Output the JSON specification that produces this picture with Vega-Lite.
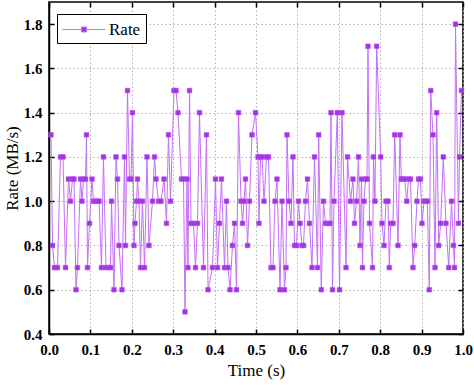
{
  "$schema": "https://vega.github.io/schema/vega-lite/v6.json",
  "width": 414,
  "height": 332,
  "autosize": {"type": "none"},
  "padding": {"left": 49, "top": 2, "right": 11, "bottom": 51},
  "config": {
    "view": {"stroke": "black", "strokeWidth": 1.5},
    "font": "Liberation Serif"
  },
  "data": {"values": [
    {"t":0.0048,"r":1.3},{"t":0.0085,"r":0.8},{"t":0.0133,"r":0.7},{"t":0.0205,"r":0.7},{"t":0.0278,"r":1.2},
    {"t":0.0338,"r":1.2},{"t":0.0399,"r":0.7},{"t":0.0471,"r":1.1},{"t":0.0519,"r":1.0},{"t":0.0568,"r":1.1},
    {"t":0.0604,"r":1.1},{"t":0.0652,"r":0.6},{"t":0.0688,"r":0.7},{"t":0.0761,"r":1.1},{"t":0.0797,"r":1.0},
    {"t":0.0833,"r":1.1},{"t":0.0882,"r":1.1},{"t":0.0906,"r":1.3},{"t":0.0930,"r":0.7},{"t":0.0978,"r":0.9},
    {"t":0.1039,"r":1.1},{"t":0.1075,"r":1.0},{"t":0.1123,"r":1.0},{"t":0.1171,"r":1.0},{"t":0.1208,"r":1.0},
    {"t":0.1268,"r":0.7},{"t":0.1316,"r":1.2},{"t":0.1377,"r":0.7},{"t":0.1437,"r":0.7},{"t":0.1486,"r":0.7},
    {"t":0.1510,"r":1.0},{"t":0.1570,"r":0.6},{"t":0.1618,"r":1.2},{"t":0.1655,"r":1.1},{"t":0.1691,"r":0.8},
    {"t":0.1763,"r":0.6},{"t":0.1824,"r":1.2},{"t":0.1848,"r":0.8},{"t":0.1896,"r":1.5},{"t":0.1944,"r":1.1},
    {"t":0.1981,"r":1.1},{"t":0.2017,"r":1.4},{"t":0.2053,"r":0.8},{"t":0.2077,"r":0.9},{"t":0.2114,"r":1.0},
    {"t":0.2138,"r":1.1},{"t":0.2174,"r":1.0},{"t":0.2210,"r":0.7},{"t":0.2258,"r":1.0},{"t":0.2307,"r":0.7},
    {"t":0.2367,"r":1.2},{"t":0.2415,"r":0.8},{"t":0.2500,"r":1.0},{"t":0.2548,"r":1.2},{"t":0.2585,"r":1.1},
    {"t":0.2645,"r":1.0},{"t":0.2705,"r":1.0},{"t":0.2778,"r":1.1},{"t":0.2838,"r":0.9},{"t":0.2886,"r":1.3},
    {"t":0.2935,"r":1.0},{"t":0.3019,"r":1.5},{"t":0.3068,"r":1.5},{"t":0.3116,"r":1.4},{"t":0.3200,"r":1.1},
    {"t":0.3249,"r":1.1},{"t":0.3285,"r":0.5},{"t":0.3333,"r":1.1},{"t":0.3357,"r":0.7},{"t":0.3394,"r":1.5},
    {"t":0.3430,"r":0.9},{"t":0.3490,"r":0.9},{"t":0.3539,"r":0.7},{"t":0.3587,"r":0.9},{"t":0.3635,"r":1.4},
    {"t":0.3732,"r":0.7},{"t":0.3804,"r":1.3},{"t":0.3841,"r":0.6},{"t":0.3949,"r":0.7},{"t":0.4022,"r":1.1},
    {"t":0.4070,"r":0.7},{"t":0.4118,"r":0.9},{"t":0.4167,"r":1.1},{"t":0.4239,"r":0.7},{"t":0.4287,"r":1.0},
    {"t":0.4324,"r":0.7},{"t":0.4372,"r":0.6},{"t":0.4432,"r":0.8},{"t":0.4481,"r":0.9},{"t":0.4529,"r":0.6},
    {"t":0.4577,"r":1.4},{"t":0.4638,"r":1.0},{"t":0.4674,"r":0.9},{"t":0.4710,"r":1.0},{"t":0.4746,"r":1.1},
    {"t":0.4795,"r":0.8},{"t":0.4843,"r":1.0},{"t":0.4903,"r":1.3},{"t":0.4988,"r":1.4},{"t":0.5048,"r":1.2},
    {"t":0.5072,"r":0.9},{"t":0.5109,"r":1.2},{"t":0.5145,"r":1.2},{"t":0.5193,"r":1.0},{"t":0.5254,"r":1.2},
    {"t":0.5302,"r":1.2},{"t":0.5362,"r":0.7},{"t":0.5411,"r":0.7},{"t":0.5459,"r":1.0},{"t":0.5507,"r":1.1},
    {"t":0.5580,"r":0.6},{"t":0.5628,"r":1.0},{"t":0.5688,"r":0.6},{"t":0.5725,"r":0.7},{"t":0.5749,"r":1.3},
    {"t":0.5797,"r":1.0},{"t":0.5845,"r":0.9},{"t":0.5894,"r":1.2},{"t":0.5930,"r":0.8},{"t":0.5978,"r":0.8},
    {"t":0.6027,"r":1.0},{"t":0.6063,"r":0.9},{"t":0.6111,"r":0.8},{"t":0.6147,"r":0.8},{"t":0.6196,"r":1.0},
    {"t":0.6244,"r":1.1},{"t":0.6292,"r":0.9},{"t":0.6353,"r":0.7},{"t":0.6413,"r":1.2},{"t":0.6486,"r":0.7},
    {"t":0.6514,"r":1.3},{"t":0.6577,"r":0.6},{"t":0.6630,"r":1.0},{"t":0.6679,"r":0.9},{"t":0.6739,"r":0.9},
    {"t":0.6787,"r":0.9},{"t":0.6812,"r":1.4},{"t":0.6848,"r":0.6},{"t":0.6884,"r":1.0},{"t":0.6964,"r":1.4},
    {"t":0.7017,"r":0.6},{"t":0.7077,"r":1.4},{"t":0.7174,"r":0.7},{"t":0.7210,"r":1.2},{"t":0.7283,"r":1.0},
    {"t":0.7343,"r":1.1},{"t":0.7379,"r":0.9},{"t":0.7428,"r":1.0},{"t":0.7476,"r":1.2},{"t":0.7512,"r":0.8},
    {"t":0.7548,"r":1.1},{"t":0.7572,"r":0.7},{"t":0.7609,"r":1.0},{"t":0.7645,"r":1.1},{"t":0.7681,"r":1.1},
    {"t":0.7705,"r":1.7},{"t":0.7742,"r":0.9},{"t":0.7814,"r":0.7},{"t":0.7838,"r":1.2},{"t":0.7874,"r":1.0},
    {"t":0.7915,"r":1.7},{"t":0.8012,"r":1.2},{"t":0.8043,"r":0.9},{"t":0.8092,"r":0.8},{"t":0.8140,"r":1.0},
    {"t":0.8188,"r":1.0},{"t":0.8220,"r":0.7},{"t":0.8254,"r":0.9},{"t":0.8309,"r":0.9},{"t":0.8350,"r":1.3},
    {"t":0.8430,"r":0.8},{"t":0.8478,"r":1.3},{"t":0.8510,"r":1.1},{"t":0.8543,"r":1.1},{"t":0.8592,"r":1.1},
    {"t":0.8640,"r":1.0},{"t":0.8684,"r":1.1},{"t":0.8732,"r":1.1},{"t":0.8792,"r":0.7},{"t":0.8833,"r":0.8},
    {"t":0.8889,"r":1.0},{"t":0.8925,"r":1.1},{"t":0.8973,"r":1.1},{"t":0.9010,"r":0.9},{"t":0.9058,"r":1.0},
    {"t":0.9094,"r":1.0},{"t":0.9138,"r":1.0},{"t":0.9186,"r":0.6},{"t":0.9220,"r":1.5},{"t":0.9275,"r":1.3},
    {"t":0.9324,"r":0.7},{"t":0.9365,"r":1.4},{"t":0.9413,"r":0.8},{"t":0.9461,"r":0.9},{"t":0.9524,"r":1.2},
    {"t":0.9589,"r":0.9},{"t":0.9655,"r":0.7},{"t":0.9722,"r":1.0},{"t":0.9771,"r":0.8},{"t":0.9795,"r":0.7},
    {"t":0.9819,"r":1.8},{"t":0.9891,"r":0.9},{"t":0.9915,"r":1.2},{"t":0.9964,"r":1.5}
  ]},
  "resolve": {"axis": {"x": "independent", "y": "independent"}},
  "layer": [
    {
      "mark": {"type": "line", "strokeWidth": 1, "clip": true},
      "encoding": {
        "x": {
          "field": "t", "type": "quantitative",
          "scale": {"domain": [0, 1], "nice": false},
          "axis": {
            "title": "Time (s)", "values": [0,0.1,0.2,0.3,0.4,0.5,0.6,0.7,0.8,0.9,1.0], "format": ".1f",
            "grid": true, "gridColor": "#b0b0b0", "gridDash": [1.5, 2.5], "gridWidth": 1,
            "domain": true, "domainColor": "black", "domainWidth": 1.5,
            "tickSize": -5, "tickColor": "black", "tickWidth": 1.5,
            "labelPadding": 13, "labelFont": "Liberation Serif", "labelFontWeight": "bold",
            "labelFontSize": 15, "labelColor": "black", "labelFlush": false,
            "titleFont": "Liberation Serif", "titleFontWeight": "normal", "titleFontSize": 17,
            "titleColor": "black", "titlePadding": 5
          }
        },
        "y": {
          "field": "r", "type": "quantitative",
          "scale": {"domain": [0.4, 1.9], "nice": false, "zero": false},
          "axis": {
            "title": "Rate (MB/s)", "values": [0.4,0.6,0.8,1.0,1.2,1.4,1.6,1.8], "format": ".1f",
            "grid": true, "gridColor": "#b0b0b0", "gridDash": [1.5, 2.5], "gridWidth": 1,
            "domain": true, "domainColor": "black", "domainWidth": 1.5,
            "tickSize": -5, "tickColor": "black", "tickWidth": 1.5,
            "labelPadding": 12, "labelFont": "Liberation Serif", "labelFontWeight": "bold",
            "labelFontSize": 15, "labelColor": "black", "labelFlush": false,
            "titleFont": "Liberation Serif", "titleFontWeight": "normal", "titleFontSize": 17,
            "titleColor": "black", "titlePadding": 2
          }
        },
        "color": {
          "datum": "Rate", "type": "nominal",
          "scale": {"range": ["#c66ef5"]},
          "legend": {
            "title": null, "orient": "none", "legendX": 8, "legendY": 12,
            "strokeColor": "black", "fillColor": "white", "padding": 5,
            "symbolType": "M-1,0L0.9,0M1.4,0L3.3,0M0.9,-0.25L1.4,-0.25L1.4,0.25L0.9,0.25Z",
            "symbolSize": 400, "symbolStrokeWidth": 1,
            "labelOffset": 26, "labelFont": "Liberation Serif", "labelFontSize": 17,
            "labelColor": "black",
            "encode": {"symbols": {"update": {"fill": {"value": "#a233e6"}, "stroke": {"value": "#c66ef5"}}}}
          }
        }
      }
    },
    {
      "mark": {"type": "point", "shape": "square", "filled": true, "size": 22, "color": "#a233e6", "opacity": 1, "stroke": "#b555ee", "strokeWidth": 0.5},
      "encoding": {
        "x": {
          "field": "t", "type": "quantitative",
          "axis": {"orient": "top", "title": null, "labels": false, "grid": false, "domain": false,
                   "values": [0,0.1,0.2,0.3,0.4,0.5,0.6,0.7,0.8,0.9,1.0],
                   "tickSize": -5, "tickColor": "black", "tickWidth": 1.5}
        },
        "y": {
          "field": "r", "type": "quantitative",
          "axis": {"orient": "right", "title": null, "labels": false, "grid": false, "domain": false,
                   "values": [0.4,0.6,0.8,1.0,1.2,1.4,1.6,1.8],
                   "tickSize": -5, "tickColor": "black", "tickWidth": 1.5}
        }
      }
    }
  ]
}
